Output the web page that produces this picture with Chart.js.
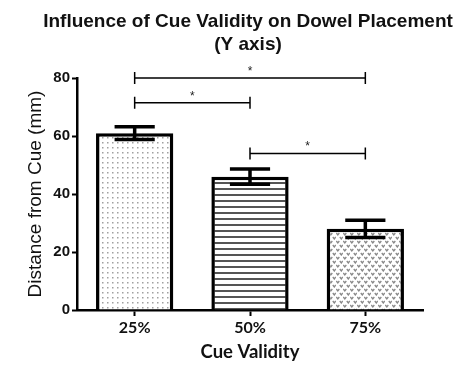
<!DOCTYPE html>
<html><head><meta charset="utf-8">
<script src="https://cdn.jsdelivr.net/npm/chart.js@4"></script>
<style>html,body{margin:0;padding:0;background:#fff}#wrap{width:474px;height:377px}</style>
</head><body><div id="wrap"><canvas id="c" width="474" height="377"></canvas></div>
<script>
const categories = ['25%', '50%', '75%'];
const means = [61, 46, 28];
const errors = [2.2, 2.6, 3.0];
const yTicks = [0, 20, 40, 60, 80];
const sigFrom = [0, 0, 1];
const sigTo = [2, 1, 2];
const sigLevel = [80, 71.5, 54];
const sigLabel = ['*', '*', '*'];

const SANS = 'Arial, Helvetica, sans-serif';
const CAL = 'Lato, sans-serif';

function mkPattern(kind) {
  const c = document.createElement('canvas');
  const x = c.getContext('2d');
  if (kind === 0) {
    c.width = 5; c.height = 5;
    x.fillStyle = '#fff'; x.fillRect(0, 0, 5, 5);
    x.fillStyle = '#a0a0a0'; x.fillRect(2, 2, 1.5, 1.5);
  } else if (kind === 1) {
    c.width = 6; c.height = 6;
    x.fillStyle = '#fff'; x.fillRect(0, 0, 6, 6);
    x.fillStyle = '#555'; x.fillRect(0, 2, 6, 2);
  } else {
    c.width = 7; c.height = 8;
    x.fillStyle = '#fff'; x.fillRect(0, 0, 7, 8);
    x.strokeStyle = '#888'; x.lineWidth = 1.3;
    x.beginPath(); x.moveTo(0.3, 1); x.lineTo(1.8, 3); x.lineTo(3.3, 1); x.stroke();
    x.beginPath(); x.moveTo(3.8, 5); x.lineTo(5.3, 7); x.lineTo(6.8, 5); x.stroke();
  }
  return x.createPattern(c, 'repeat');
}

const overlay = {
  id: 'overlay',
  afterDatasetsDraw(chart) {
    const ctx = chart.ctx;
    const ys = chart.scales.y, xs = chart.scales.x;
    const meta = chart.getDatasetMeta(0);
    ctx.save();
    ctx.strokeStyle = '#000';
    ctx.lineWidth = 3.5;
    meta.data.forEach((bar, i) => {
      const cx = bar.x;
      const hi = ys.getPixelForValue(means[i] + errors[i]);
      const lo = ys.getPixelForValue(means[i] - errors[i]);
      const hw = bar.width * 0.26;
      ctx.beginPath();
      ctx.moveTo(cx, hi); ctx.lineTo(cx, lo);
      ctx.moveTo(cx - hw, hi); ctx.lineTo(cx + hw, hi);
      ctx.moveTo(cx - hw, lo); ctx.lineTo(cx + hw, lo);
      ctx.stroke();
    });
    ctx.lineWidth = 1.5;
    ctx.fillStyle = '#222';
    ctx.font = '12px ' + SANS;
    ctx.textAlign = 'center';
    ctx.textBaseline = 'alphabetic';
    sigLevel.forEach((lv, k) => {
      const x1 = xs.getPixelForValue(sigFrom[k]);
      const x2 = xs.getPixelForValue(sigTo[k]);
      const y = ys.getPixelForValue(lv);
      ctx.beginPath();
      ctx.moveTo(x1, y); ctx.lineTo(x2, y);
      ctx.moveTo(x1, y - 6); ctx.lineTo(x1, y + 6);
      ctx.moveTo(x2, y - 6); ctx.lineTo(x2, y + 6);
      ctx.stroke();
      ctx.fillText(sigLabel[k], (x1 + x2) / 2, y - 3);
    });
    ctx.restore();
  }
};

new Chart(document.getElementById('c'), {
  type: 'bar',
  data: {
    labels: categories,
    datasets: [{
      data: means,
      backgroundColor: [mkPattern(0), mkPattern(1), mkPattern(2)],
      borderColor: '#000',
      borderWidth: 3.5,
      borderSkipped: 'bottom',
      categoryPercentage: 1,
      barPercentage: 0.67
    }]
  },
  options: {
    responsive: false,
    animation: false,
    layout: { padding: { left: 22, right: 0, top: 0, bottom: 0 } },
    plugins: {
      legend: { display: false },
      tooltip: { enabled: false },
      title: {
        display: true,
        text: ['Influence of Cue Validity on Dowel Placement', '(Y axis)'],
        color: '#111',
        font: { family: SANS, size: 19, weight: 'bold', lineHeight: 1.2 },
        padding: { top: 10.5, bottom: 22 }
      }
    },
    scales: {
      x: {
        grid: { drawOnChartArea: false, offset: false, color: '#000', tickLength: 6, tickWidth: 2 },
        border: { color: '#000', width: 2.5 },
        ticks: { color: '#111', padding: 2, font: { family: CAL, size: 16, weight: 'bold' } },
        title: { display: true, text: 'Cue Validity', color: '#111', padding: { top: 0, bottom: 14 },
          font: { family: CAL, size: 18.5, weight: 'bold' } },
        afterFit(s) { s.height = 67; }
      },
      y: {
        min: 0, max: 80,
        afterBuildTicks(s) { s.ticks = yTicks.map(v => ({ value: v })); },
        grid: { drawOnChartArea: false, color: '#000', tickLength: 5, tickWidth: 2 },
        border: { color: '#000', width: 2.5 },
        ticks: { color: '#111', padding: 2, font: { family: SANS, size: 15, weight: 'bold' } },
        title: { display: true, text: 'Distance from Cue (mm)', color: '#111', padding: { top: 2, bottom: 0 },
          font: { family: SANS, size: 19 } },
        afterFit(s) { s.width = 55; }
      },
      spacer: {
        position: 'right',
        min: 0, max: 80,
        grid: { display: false },
        border: { display: false },
        ticks: { display: false },
        afterFit(s) { s.width = 51; }
      }
    }
  },
  plugins: [overlay]
});
</script>
</body></html>
